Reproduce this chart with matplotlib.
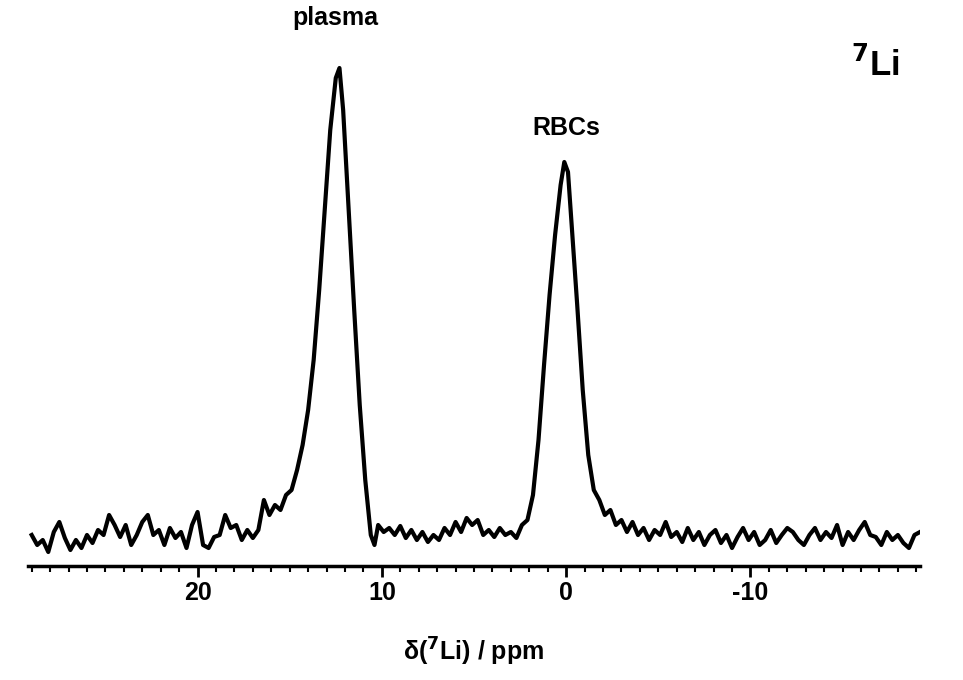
import matplotlib
matplotlib.use("Agg")
import matplotlib.pyplot as plt
from matplotlib.ticker import MultipleLocator

ppm = [29.0,28.7,28.4,28.1,27.8,27.5,27.2,26.9,26.6,26.3,26.0,25.7,25.4,25.1,24.8,24.5,24.2,23.9,23.6,23.3,23.0,22.7,22.4,22.1,21.8,21.5,21.2,20.9,20.6,20.3,20.0,19.7,19.4,19.1,18.8,18.5,18.2,17.9,17.6,17.3,17.0,16.7,16.4,16.1,15.8,15.5,15.2,14.9,14.6,14.3,14.0,13.7,13.4,13.1,12.8,12.5,12.3,12.1,11.8,11.5,11.2,10.9,10.6,10.4,10.2,9.9,9.6,9.3,9.0,8.7,8.4,8.1,7.8,7.5,7.2,6.9,6.6,6.3,6.0,5.7,5.4,5.1,4.8,4.5,4.2,3.9,3.6,3.3,3.0,2.7,2.4,2.1,1.8,1.5,1.2,0.9,0.6,0.3,0.1,-0.1,-0.3,-0.6,-0.9,-1.2,-1.5,-1.8,-2.1,-2.4,-2.7,-3.0,-3.3,-3.6,-3.9,-4.2,-4.5,-4.8,-5.1,-5.4,-5.7,-6.0,-6.3,-6.6,-6.9,-7.2,-7.5,-7.8,-8.1,-8.4,-8.7,-9.0,-9.3,-9.6,-9.9,-10.2,-10.5,-10.8,-11.1,-11.4,-11.7,-12.0,-12.3,-12.6,-12.9,-13.2,-13.5,-13.8,-14.1,-14.4,-14.7,-15.0,-15.3,-15.6,-15.9,-16.2,-16.5,-16.8,-17.1,-17.4,-17.7,-18.0,-18.3,-18.6,-18.9,-19.2]
intensity = [5,-5,0,-12,8,18,2,-10,0,-8,5,-3,10,5,25,15,3,15,-5,5,18,25,5,10,-5,12,2,8,-8,15,28,-5,-8,3,5,25,12,15,0,10,2,10,40,25,35,30,45,50,70,95,130,180,250,330,410,462,472,430,330,230,135,60,5,-5,15,8,12,5,14,2,10,0,8,-2,5,0,12,5,18,8,22,15,20,5,10,3,12,5,8,2,15,20,45,100,175,245,305,355,378,368,315,235,150,85,50,40,25,30,15,20,8,18,5,12,0,10,5,18,3,8,-2,12,0,8,-5,5,10,-3,5,-8,3,12,0,8,-5,0,10,-3,5,12,8,0,-5,5,12,0,8,2,15,-5,8,0,10,18,5,3,-5,8,0,5,-3,-8,5,8]

tick_vals = [20, 10, 0, -10]

plt.rcParams['font.family'] = ['Liberation Sans', 'DejaVu Sans']
fig = plt.figure(figsize=(9.63, 6.80), dpi=100)
ax = fig.add_axes([28/963, 1-566/680, (920-28)/963, (566-40)/680])
ax.plot(ppm, intensity, color='black', lw=3)
ax.set_xlim(29.2, -19.2)
ax.set_ylim(-26, 500)
for s in ['top', 'left', 'right']:
    ax.spines[s].set_visible(False)
ax.spines['bottom'].set_linewidth(2.5)
ax.set_yticks([])
ax.set_xticks(tick_vals)
ax.set_xticklabels([str(v) for v in tick_vals], fontsize=18, fontweight='bold')
ax.xaxis.set_minor_locator(MultipleLocator(1))
ax.tick_params(axis='x', which='major', direction='out', length=8, width=2, pad=3)
ax.tick_params(axis='x', which='minor', direction='out', length=4, width=1.5)
ax.set_xlabel(r'δ($\mathbf{^7}$Li) / ppm', fontsize=18, fontweight='bold', labelpad=22)
ax.text(12.5, 522, 'plasma', ha='center', va='center', fontsize=18, fontweight='bold', clip_on=False)
ax.text(0.0, 412, 'RBCs', ha='center', va='center', fontsize=18, fontweight='bold')
ax.text(-16.8, 475, r'$\mathbf{^7}$Li', ha='center', va='center', fontsize=25, fontweight='bold')
fig.savefig('out.png', dpi=100)
